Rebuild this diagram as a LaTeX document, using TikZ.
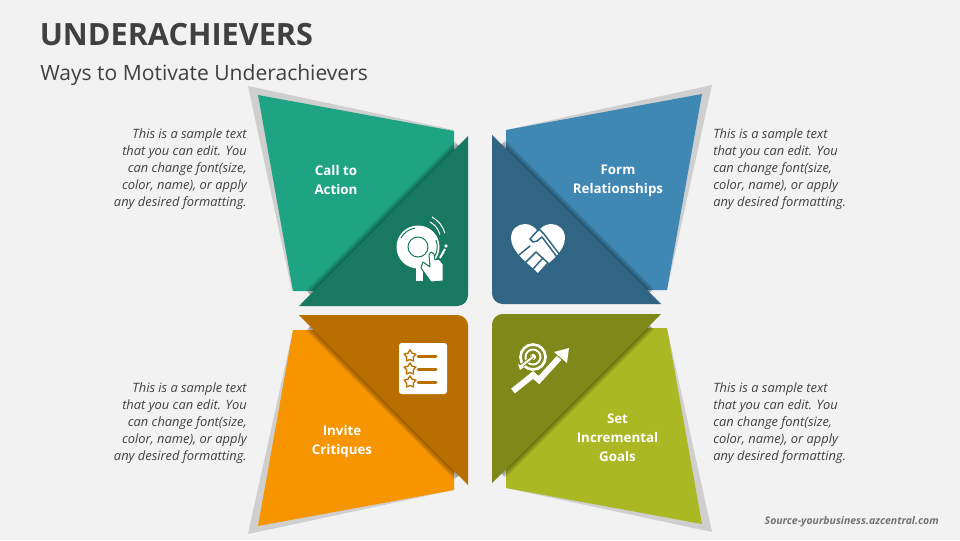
\documentclass[tikz,border=0pt]{standalone}
\usepackage{fontspec}
\setmainfont{Open Sans}
\usetikzlibrary{shapes.geometric}
\definecolor{pagebg}{HTML}{F2F2F2}
\definecolor{tipgray}{HTML}{CFCFCF}
\definecolor{inkgray}{HTML}{404040}
\definecolor{greenlight}{HTML}{1FA483}
\definecolor{greendark}{HTML}{177A60}
\definecolor{bluelight}{HTML}{3F88B3}
\definecolor{bluedark}{HTML}{306684}
\definecolor{orangelight}{HTML}{F79500}
\definecolor{orangedark}{HTML}{B96F00}
\definecolor{olivelight}{HTML}{A9B823}
\definecolor{olivedark}{HTML}{7E891A}
\tikzset{
	bodyleft/.style={align=right, anchor=east, font=\fontsize{9.65}{12.7}\selectfont\itshape, text=inkgray, inner sep=0pt},
	bodyright/.style={align=left, anchor=west, font=\fontsize{9.65}{12.7}\selectfont\itshape, text=inkgray, inner sep=0pt},
	panellabel/.style={align=center, font=\fontsize{10}{14.25}\selectfont\bfseries, text=white, inner sep=0pt},
	edgeshade/.style={black, opacity=.07, shorten <=10pt, shorten >=12pt},
	handline/.style={bluedark, line width=1.1pt, line cap=round, line join=round},
}
\begin{document}
\begin{tikzpicture}[x=.75pt, y=-.75pt]
	\fill[pagebg] (0,0) rectangle (960,540);
	\useasboundingbox (0,0) rectangle (960,540);
	% title
	\node[anchor=west, inner sep=0pt, text=inkgray, font=\fontsize{23}{23}\selectfont\bfseries] (title) at (39.5,35) {UNDERACHIEVERS};
	\node[anchor=west, inner sep=0pt, text=inkgray, font=\fontsize{15.8}{16}\selectfont] (subtitle) at (40,75.5) {Ways to Motivate Underachievers};
	% gray tips
	\fill[tipgray] (248,86) -- (454,130) -- (292,291) -- cycle;
	\fill[tipgray] (712,85) -- (506,130) -- (667,290) -- cycle;
	\fill[tipgray] (248,534) -- (454,490) -- (293,330) -- cycle;
	\fill[tipgray] (712,532) -- (506,488) -- (667,328) -- cycle;
	% light panels
	\fill[greenlight] (258,95) -- (454,131) -- (454,291) -- (293,291) -- cycle;
	\fill[bluelight] (702,94) -- (506,130) -- (506,290) -- (667,290) -- cycle;
	\fill[orangelight] (258,526) -- (454,490) -- (454,330) -- (293,330) -- cycle;
	\fill[olivelight] (702,524) -- (506,488) -- (506,328) -- (667,328) -- cycle;
	% shadows along the dark triangles
	\foreach \w in {2,4,6,8,10,12} {
		\draw[edgeshade, line width=\w*.75pt] (468,136) -- (299,306);
		\draw[edgeshade, line width=\w*.75pt] (492,135) -- (661,304);
		\draw[edgeshade, line width=\w*.75pt] (468,485) -- (299,315);
		\draw[edgeshade, line width=\w*.75pt] (492,483) -- (661,314);
	}
	% dark triangles
	\fill[greendark] (468,136) [rounded corners=8pt] -- (468,306) [sharp corners] -- (299,306) -- cycle;
	\fill[bluedark] (492,135) [rounded corners=8pt] -- (492,304) [sharp corners] -- (661,304) -- cycle;
	\fill[orangedark] (468,485) [rounded corners=8pt] -- (468,315) [sharp corners] -- (299,315) -- cycle;
	\fill[olivedark] (492,483) [rounded corners=8pt] -- (492,314) [sharp corners] -- (661,314) -- cycle;
	% panel labels
	\node[panellabel] (callto) at (336,179.5) {Call to\\Action};
	\node[panellabel] (form) at (618,181) {Form\\Relationships};
	\node[panellabel] (invite) at (342,441.5) {Invite\\Critiques};
	\node[panellabel] (incremental) at (617.5,438) {Set\\Incremental\\Goals};
	% side texts
	\node[bodyleft] (textcall) at (247,169.5) {This is a sample text\\that you can edit. You\\can change font(size,\\color, name), or apply\\any desired formatting.};
	\node[bodyright] (textform) at (713,169.5) {This is a sample text\\that you can edit. You\\can change font(size,\\color, name), or apply\\any desired formatting.};
	\node[bodyleft] (textinvite) at (247,423.5) {This is a sample text\\that you can edit. You\\can change font(size,\\color, name), or apply\\any desired formatting.};
	\node[bodyright] (textset) at (713,423.5) {This is a sample text\\that you can edit. You\\can change font(size,\\color, name), or apply\\any desired formatting.};
	\node[anchor=east, inner sep=0pt, text=black!55, font=\fontsize{7.85}{9}\selectfont\bfseries\itshape] (source) at (939,522) {Source-yourbusiness.azcentral.com};
	% alarm icon
	\fill[white] (416,268) rectangle (423,281);
	\fill[white] (418,247) circle (21.5);
	\draw[greendark, line width=.75pt] (418,247) circle (10);
	\draw[greendark, line width=.75pt] (401,238) arc[start angle=208, end angle=262, radius=19];
	\draw[greendark, line width=.75pt] (436,240) arc[start angle=-21, end angle=30, radius=19];
	\draw[white, line width=.75pt] (432,217) arc[start angle=-62, end angle=-15, radius=26];
	\draw[white, line width=.75pt] (430,222) arc[start angle=-62, end angle=-15, radius=20];
	\fill[white] (446,246) circle (1.8);
	\draw[white, line width=1.5pt] (445,249) -- (440,258);
	\draw[fill=white, draw=greendark, line width=.75pt, line join=round] (431,282) -- (421,268) -- (423,262) -- (430,267) -- (429,255) -- (431,252) -- (434,254) -- (435,260) -- (439,259) -- (443,264) -- (443,281) -- cycle;
	% handshake icon
	\fill[white] (538,273) .. controls (528,263) and (511,252) .. (511,238) .. controls (511,229) and (518,224) .. (525,224) .. controls (531,224) and (536,228) .. (538,232) .. controls (540,228) and (545,224) .. (551,224) .. controls (558,224) and (565,229) .. (565,238) .. controls (565,252) and (548,263) .. (538,273) -- cycle;
	\draw[handline] (560,255) -- (544,234) -- (539,229) -- (530,239) -- (533,242) -- (537,241) -- (542,237) -- (557,257);
	\draw[handline] (519,255) -- (530,246);
	\draw[handline] (525,263) -- (536,252) -- (548,263);
	\draw[handline] (532,270) -- (543,258);
	\draw[handline] (539,273) -- (548,263);
	% checklist icon
	\fill[white, rounded corners=2pt] (399,343) rectangle (447,394);
	\foreach \i/\y in {1/356,2/369,3/382} {
		\node[star, star points=5, star point ratio=1.7, draw=orangedark, line width=1pt, fill=white, minimum size=9pt, inner sep=0pt] (star\i) at (410,\y) {};
		\draw[orangedark, line width=2.25pt, line cap=round] (418,\y) -- (436,\y);
	}
	% target icon
	\draw[white, line width=2pt] (533,357) circle (12.5);
	\draw[white, line width=1.5pt] (533,357) circle (7.5);
	\fill[white] (533,357) circle (3);
	\draw[olivedark, line width=3pt] (520,367) -- (533,357);
	\draw[white, line width=1.5pt] (520,367) -- (533,357);
	\fill[white] (518,364) -- (524,367) -- (520,370) -- cycle;
	\draw[white, line width=4.5pt, line join=miter] (513,391) -- (533,375) -- (539,380) -- (559,358);
	\fill[white] (569,348) -- (554,352) -- (567,363) -- cycle;
\end{tikzpicture}
\end{document}
